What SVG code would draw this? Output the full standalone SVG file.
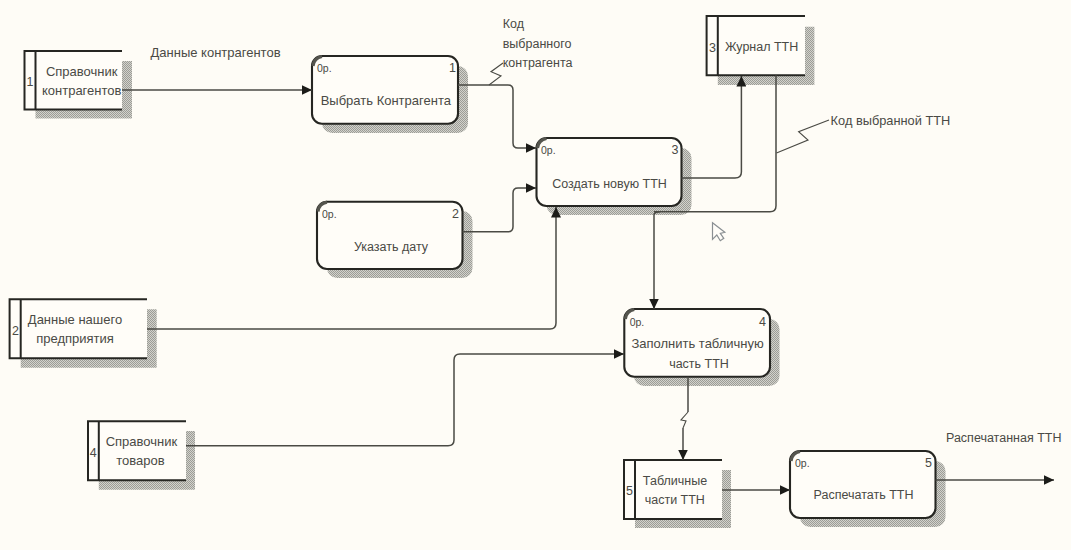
<svg xmlns="http://www.w3.org/2000/svg" width="1071" height="550" viewBox="0 0 1071 550">
<style>
text{font-family:"Liberation Sans",Arial,sans-serif;font-size:13px;fill:#4a4a45}
.c{text-anchor:middle}
.s{font-size:10.500px}
.n{font-size:12.500px}
.t{font-size:12.500px}
.proc{fill:#fffdf8;stroke:#262622;stroke-width:2.100}
.notch{fill:none;stroke:#55554e;stroke-width:3.200}
.box{fill:#fffdf8;stroke:none}
.edge{fill:none;stroke:#262622;stroke-width:2}
.shadow{fill:url(#hatch);stroke:none}
.conn{fill:none;stroke:#4a4a44;stroke-width:1.500}
.zig{fill:none;stroke:#4a4a44;stroke-width:1.100}
.cursor{fill:#fffdf8;stroke:#8a8f92;stroke-width:1.200}
</style>
<defs>
<pattern id="hatch" width="2" height="2" patternUnits="userSpaceOnUse">
<rect width="2" height="2" fill="#d2d2cc"/>
<rect width="1" height="1" fill="#9c9c96"/>
<rect x="1" y="1" width="1" height="1" fill="#9c9c96"/>
</pattern>
<marker id="a" markerUnits="userSpaceOnUse" markerWidth="11" markerHeight="10" refX="10.500" refY="5" orient="auto">
<path d="M0 0L10.500 5L0 10Z" fill="#1c1c19"/>
</marker>
</defs>
<rect width="1071" height="550" fill="#fefcf6"/>

<g id="store1">
<path class="shadow" d="M122 61H132V118.500H35.500V109.300H122Z"/>
<rect class="box" x="24.500" y="51" width="97.500" height="58.500"/>
<path class="edge" d="M122 51H24.500V109.500H122M35.500 51V109.500"/>
<text class="c n" x="30" y="86">1</text>
<text class="c" x="81.700" y="76">Справочник</text>
<text class="c" x="81.700" y="95">контрагентов</text>
</g>
<g id="store2">
<path class="shadow" d="M147 309.300H156.700V367.700H20.700V358.300H147Z"/>
<rect class="box" x="9.600" y="299.300" width="137.400" height="59"/>
<path class="edge" d="M147 299.300H9.600V358.300H147M20.700 299.300V358.300"/>
<text class="c n" x="15.500" y="335">2</text>
<text class="c" x="75" y="324.300">Данные нашего</text>
<text class="c" x="75" y="343.300">предприятия</text>
</g>
<g id="store3">
<path class="shadow" d="M805 26.700H814.400V85H717.800V75.300H805Z"/>
<rect class="box" x="706.600" y="16" width="98.400" height="59.300"/>
<path class="edge" d="M805 16H706.600V75.300H805M717.800 16V75.300"/>
<text class="c n" x="712.500" y="51.700">3</text>
<text class="c t" x="761.600" y="51">Журнал ТТН</text>
</g>
<g id="store4">
<path class="shadow" d="M186 431H195V489.700H98.800V480.300H186Z"/>
<rect class="box" x="88" y="421.300" width="98" height="59"/>
<path class="edge" d="M186 421.300H88V480.300H186M98.800 421.300V480.300"/>
<text class="c n" x="93.300" y="456.700">4</text>
<text class="c" x="141.400" y="446">Справочник</text>
<text class="c" x="140.500" y="465">товаров</text>
</g>
<g id="store5">
<path class="shadow" d="M722 470H731V528H635V519H722Z"/>
<rect class="box" x="624" y="460" width="98" height="59"/>
<path class="edge" d="M722 460H624V519H722M635 460V519"/>
<text class="c n" x="629.400" y="495">5</text>
<text class="c t" x="675" y="485">Табличные</text>
<text class="c t" x="674.800" y="504.300">части ТТН</text>
</g>

<g id="process1">
<rect class="shadow" x="322" y="66" width="146" height="67" rx="10"/>
<rect class="proc" x="312" y="56" width="146" height="67.700" rx="10"/>
<path class="notch" d="M313 66Q314 58 322 56.500"/>
<text class="s" x="317" y="71.700">0р.</text>
<text class="c n" x="452.500" y="71.700">1</text>
<text class="c" x="385.800" y="104.700">Выбрать Контрагента</text>
</g>
<g id="process2">
<rect class="shadow" x="327" y="211" width="145.500" height="67" rx="10"/>
<rect class="proc" x="317" y="201.700" width="145.500" height="67.300" rx="10"/>
<path class="notch" d="M318 211.500Q319 203.500 327 202.200"/>
<text class="s" x="322" y="218">0р.</text>
<text class="c n" x="455.600" y="218">2</text>
<text class="c t" x="391" y="250.700">Указать дату</text>
</g>
<g id="process3">
<rect class="shadow" x="546.500" y="148" width="145" height="67" rx="10"/>
<rect class="proc" x="536.500" y="138" width="145" height="68" rx="10"/>
<path class="notch" d="M537.500 148Q538.500 140 546.500 138.500"/>
<text class="s" x="541" y="154">0р.</text>
<text class="c n" x="675" y="154">3</text>
<text class="c t" x="609.500" y="187.700">Создать новую ТТН</text>
</g>
<g id="process4">
<rect class="shadow" x="634" y="319" width="145.500" height="67" rx="10"/>
<rect class="proc" x="624.300" y="309" width="145.700" height="67.700" rx="10"/>
<path class="notch" d="M625.300 319Q626.300 311 634.300 309.500"/>
<text class="s" x="629.700" y="325.700">0р.</text>
<text class="c n" x="762.500" y="325.700">4</text>
<text class="c" x="697.600" y="348.300">Заполнить табличную</text>
<text class="c t" x="699" y="367.700">часть ТТН</text>
</g>
<g id="process5">
<rect class="shadow" x="800" y="461" width="145.500" height="66" rx="10"/>
<rect class="proc" x="790" y="451" width="145.500" height="67" rx="10"/>
<path class="notch" d="M791 461Q792 453 800 451.500"/>
<text class="s" x="795" y="466.700">0р.</text>
<text class="c n" x="928.400" y="466.700">5</text>
<text class="c t" x="863.500" y="499.300">Распечатать ТТН</text>
</g>

<g id="connectors">
<path class="conn" marker-end="url(#a)" d="M122 90H312"/>
<path class="conn" marker-end="url(#a)" d="M458 85H508Q513 85 513 90V143Q513 148 518 148H536"/>
<path class="conn" marker-end="url(#a)" d="M462.500 231.700H508Q513 231.700 513 226.700V193Q513 188 518 188H536"/>
<path class="conn" marker-end="url(#a)" d="M681.500 178H735Q741.400 178 741.400 172V76"/>
<path class="conn" d="M681.500 211.700H770Q776 211.700 776 205.700V75.300"/>
<path class="conn" marker-end="url(#a)" d="M660 211.700Q654 211.700 654 215V309"/>
<path class="conn" d="M654 211.700H682"/>
<path class="conn" marker-end="url(#a)" d="M147 329H550Q556 329 556 323V207"/>
<path class="conn" marker-end="url(#a)" d="M186 445.700H448Q454 445.700 454 440V360Q454 354 460 354H624"/>
<path class="conn" d="M688 376.700V412"/>
<path class="conn" marker-end="url(#a)" d="M683 428V460"/>
<path class="conn" marker-end="url(#a)" d="M722 490H790"/>
<path class="conn" marker-end="url(#a)" d="M935.500 480H1054"/>
<path class="zig" d="M688 412L681 420L686 421L683 428"/>
<path class="zig" d="M489 85L501 76L491 71.700L503 63"/>
<path class="zig" d="M776.500 153L808 140L798.600 131.700L829 120"/>
</g>

<g id="labels">
<text x="150.500" y="57">Данные контрагентов</text>
<text class="t" x="502.700" y="27.700">Код</text>
<text class="t" x="502.700" y="47.700">выбранного</text>
<text class="t" x="502.700" y="66.700">контрагента</text>
<text class="t" x="830.600" y="125" style="font-size:12.800px">Код выбранной ТТН</text>
<text class="t" x="946" y="442">Распечатанная ТТН</text>
</g>
<path class="cursor" d="M712.500 222.700V239.300L716.800 235L720.300 240.700L723.800 238.300L720.300 233.300L724.800 232.300Z"/>
</svg>
